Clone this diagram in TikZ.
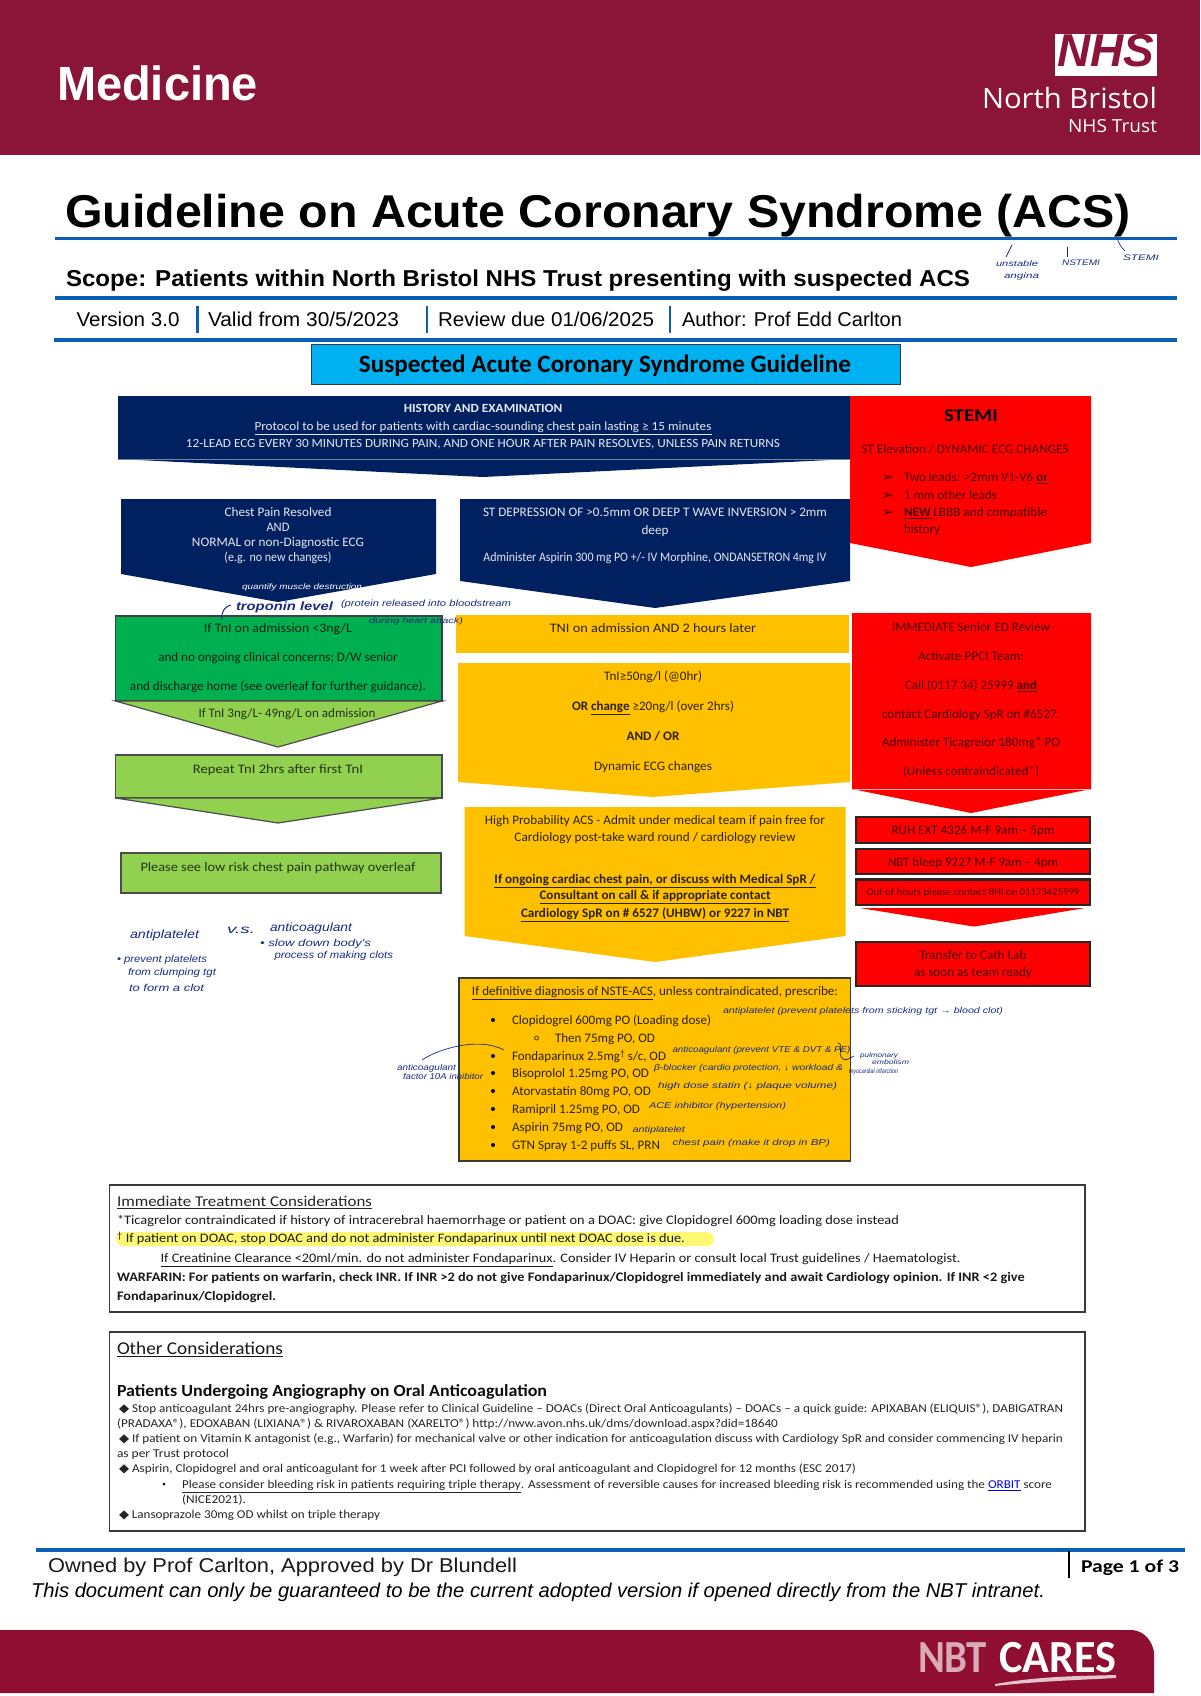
\documentclass[tikz,border=0pt]{standalone}
\usepackage{fontspec}
\setmainfont{Carlito}
\newfontfamily\arialf{Liberation Sans}
\newfontfamily\opensf{Open Sans}
\newfontfamily\dejaf{DejaVu Sans}
\definecolor{maroonA}{HTML}{8A1538}
\definecolor{maroonB}{HTML}{8F0E32}
\definecolor{nhsblue}{HTML}{0B5FB8}
\definecolor{skyB}{HTML}{00B0F0}
\definecolor{navyB}{HTML}{002060}
\definecolor{orangeB}{HTML}{FFC000}
\definecolor{greenB}{HTML}{00B050}
\definecolor{limeB}{HTML}{92D050}
\definecolor{inkB}{HTML}{1B2A80}
\definecolor{edgeB}{HTML}{3A3A3A}
\tikzset{
  txt/.style={inner sep=0pt,outer sep=0pt},
  onnavy/.style={text=white!90!navyB},
  onred/.style={text=red!28!black},
  onorange/.style={text=orangeB!18!black},
  ongreen/.style={text=greenB!20!black},
  onlime/.style={text=limeB!25!black},
  inktext/.style={text=inkB},
  bluerule/.style={draw=nhsblue,line width=3.6pt},
  bluebar/.style={draw=nhsblue,line width=2.8pt},
  navybox/.style={fill=navyB},
  redbox/.style={fill=red},
  redframed/.style={fill=red,draw=black!85,line width=2.2pt},
  orangebox/.style={fill=orangeB},
  orangeframed/.style={fill=orangeB,draw=edgeB,line width=1.2pt},
  greenframed/.style={fill=greenB,draw=black!75,line width=1.4pt},
  limeframed/.style={fill=limeB,draw=black!70,line width=1.2pt},
  considerbox/.style={draw=edgeB,line width=1.4pt},
  inkline/.style={draw=inkB,line width=0.7pt},
}
\newcommand\fitw[2]{\resizebox{#1pt}{\height}{#2}}
% [options]{name}{x}{y centre}{size}{width}{text}
\newcommand\txl[7][]{\node[txt,anchor=base west,#1] (#2) at ({#3},{#4+0.37*(#5)}) {\fontsize{#5pt}{#5pt}\selectfont\fitw{#6}{#7}};}
\newcommand\txc[7][]{\node[txt,anchor=base,#1] (#2) at ({#3},{#4+0.37*(#5)}) {\fontsize{#5pt}{#5pt}\selectfont\fitw{#6}{#7}};}
\newcommand\inkf{\arialf\itshape}
\begin{document}
\begin{tikzpicture}[x=1pt,y=-1pt]
\useasboundingbox (0,0) rectangle (1200,1696);
\fill[white] (0,0) rectangle (1200,1696);
% header
\fill[maroonA] (0,0) rectangle (1200,155);
\txl[text=white]{medicine}{57}{82.7}{48}{201}{\arialf\bfseries Medicine}
\fill[white] (1055,34) rectangle (1157,76);
\txc[text=maroonA]{nhslogo}{1106}{49}{46}{97}{\arialf\bfseries\itshape NHS}
\txl[text=white]{northbristol}{982}{98.6}{28}{175}{\opensf North Bristol}
\txl[text=white]{nhstrust}{1068}{126.3}{18}{89}{\opensf NHS Trust}
% title block
\txl{title}{65}{210}{46}{1066}{\arialf\bfseries Guideline on Acute Coronary Syndrome (ACS)}
\draw[bluerule] (55,238.7) -- (1177,238.7);
\txl{scope}{66}{278.4}{23}{904}{\arialf\bfseries Scope: Patients within North Bristol NHS Trust presenting with suspected ACS}
\draw[bluerule] (55,298) -- (1177,298);
\txl{version}{76.5}{318.6}{20}{103}{\arialf Version 3.0}
\draw[bluebar] (197.5,306) -- (197.5,333);
\txl{valid}{208}{318.6}{20}{191}{\arialf Valid from 30/5/2023}
\draw[bluebar] (427,306) -- (427,333);
\txl{review}{438}{318.6}{20}{216}{\arialf Review due 01/06/2025}
\draw[bluebar] (670,306) -- (670,333);
\txl{author}{682}{318.6}{20}{220}{\arialf Author: Prof Edd Carlton}
\draw[bluerule] (54,340) -- (1177,340);
% heading box
\draw[fill=skyB,draw=edgeB,line width=0.9pt] (311,344.5) rectangle (900,384);
\txc[text=black]{heading}{605}{363.7}{25}{492}{\bfseries Suspected Acute Coronary Syndrome Guideline}
% history arrow
\fill[navybox] (118,396) -- (850,396) -- (850,459) -- (483,477) -- (118,459) -- cycle;
\draw[white!45!navyB,line width=0.5pt] (118,459) -- (850,459);
\txc[onnavy]{hist1}{483}{408}{12.5}{158.5}{\bfseries HISTORY AND EXAMINATION}
\txc[onnavy]{hist2}{483}{426}{12.5}{457}{\underline{Protocol to be used for patients with cardiac-sounding chest pain lasting ≥ 15 minutes}}
\txc[onnavy]{hist3}{483}{443}{12.5}{594}{12-LEAD ECG EVERY 30 MINUTES DURING PAIN, AND ONE HOUR AFTER PAIN RESOLVES, UNLESS PAIN RETURNS}
% chest pain arrow
\fill[navybox] (121,499) -- (436,499) -- (436,574) -- (278,602) -- (121,574) -- cycle;
\txc[onnavy]{cp1}{278}{512}{13}{107}{Chest Pain Resolved}
\txc[onnavy]{cp2}{278}{527}{13}{23}{AND}
\txc[onnavy]{cp3}{278}{542}{13}{172}{NORMAL or non-Diagnostic ECG}
\txc[onnavy]{cp4}{278}{557}{13}{107}{(e.g. no new changes)}
% ST depression arrow
\fill[navybox] (460,499) -- (850,499) -- (850,581) -- (655,608) -- (460,581) -- cycle;
\txc[onnavy]{st1}{655}{512}{13}{344}{ST DEPRESSION OF >0.5mm OR DEEP T WAVE INVERSION > 2mm}
\txc[onnavy]{st2}{655}{530}{13}{27}{deep}
\txc[onnavy]{st3}{655}{557}{13}{343}{Administer Aspirin 300 mg PO +/- IV Morphine, ONDANSETRON 4mg IV}
% STEMI arrow
\fill[redbox] (850,396) -- (1091,396) -- (1091,543) -- (971,567) -- (850,543) -- cycle;
\txc[text=black]{stemi}{971}{414.5}{18}{54}{\bfseries STEMI}
\txc[onred]{stemi1}{965}{449}{13}{207}{ST Elevation / DYNAMIC ECG CHANGES}
\txc[onred]{stemibul1}{888}{477}{13}{13}{\dejaf ➢}
\txl[onred]{stemi2}{904}{477}{13}{144}{Two leads: >2mm V1-V6 \underline{\bfseries or}}
\txc[onred]{stemibul2}{888}{494.4}{13}{13}{\dejaf ➢}
\txl[onred]{stemi3}{904}{494.4}{13}{93}{1 mm other leads}
\txc[onred]{stemibul3}{888}{512}{13}{13}{\dejaf ➢}
\txl[onred]{stemi4}{904}{512}{13}{143}{\underline{\bfseries NEW\,}LBBB and compatible}
\txl[onred]{stemi5}{904}{529}{13}{36}{history}
% green column
\draw[greenframed] (115.5,616) rectangle (442,701);
\txc[ongreen]{g1}{278}{628}{13}{148}{If TnI on admission <3ng/L}
\txc[ongreen]{g2}{278}{657}{13}{239.5}{and no ongoing clinical concerns; D/W senior}
\txc[ongreen]{g3}{278}{686}{13}{296}{and discharge home (see overleaf for further guidance).}
\draw[limeframed] (115.5,701) -- (442,701) -- (278,747) -- cycle;
\txc[onlime]{g4}{287}{713}{13}{177}{If TnI 3ng/L- 49ng/L on admission}
\draw[limeframed] (115.5,755) rectangle (442,798);
\draw[limeframed] (115.5,798) -- (442,798) -- (278,823) -- cycle;
\txc[onlime]{g5}{278}{769}{13}{170}{Repeat TnI 2hrs after first TnI}
\draw[limeframed] (121,853) rectangle (441,893);
\txc[onlime]{g6}{278}{867}{13}{275}{Please see low risk chest pain pathway overleaf}
% orange column
\fill[orangebox] (456,615) rectangle (849,653);
\txc[onorange]{o1}{653}{628}{13}{206.5}{TNI on admission AND 2 hours later}
\fill[orangebox] (458,663) -- (850,663) -- (850,782) -- (653,797) -- (458,782) -- cycle;
\txc[onorange]{o2}{653}{676}{13}{98}{TnI≥50ng/l (@0hr)}
\txc[onorange]{o3}{653}{706}{13}{162}{\bfseries OR \underline{change} \mdseries ≥20ng/l (over 2hrs)}
\txc[onorange]{o4}{653}{736}{13}{53}{\bfseries AND / OR}
\txc[onorange]{o5}{653}{766}{13}{118}{Dynamic ECG changes}
\fill[orangebox] (464.5,807) -- (845.5,807) -- (845.5,936) -- (655,962) -- (464.5,936) -- cycle;
\txc[onorange]{o6}{655}{820}{13}{340}{High Probability ACS - Admit under medical team if pain free for}
\txc[onorange]{o7}{655}{837}{13}{281}{Cardiology post-take ward round / cardiology review}
\txc[onorange]{o8}{655}{879}{13}{321}{\bfseries\underline{If ongoing cardiac chest pain, or discuss with Medical SpR /}}
\txc[onorange]{o9}{655}{895}{13}{231}{\bfseries\underline{Consultant on call \& if appropriate contact}}
\txc[onorange]{o10}{655}{913}{13}{268}{\bfseries\underline{Cardiology SpR on \# 6527 (UHBW) or 9227 in NBT}}
% NSTE-ACS box
\draw[orangeframed] (459,978) rectangle (850.5,1161);
\txc[onorange]{n0}{655}{991}{13}{366}{\underline{If definitive diagnosis of NSTE-ACS}, unless contraindicated, prescribe:}
\foreach \nm/\yy in {a/1020,b/1056,c/1073,d/1091,e/1109,f/1127,g/1145}{
  \fill[black] (493,\yy) circle (2pt);
}
\draw[black!80,line width=0.7pt] (536.5,1038) circle (2pt);
\txl[onorange]{n1}{512}{1020}{13}{199}{Clopidogrel 600mg PO (Loading dose)}
\txl[onorange]{n2}{555}{1038}{13}{100}{Then 75mg PO, OD}
\txl[onorange]{n3}{512}{1056}{13}{154}{Fondaparinux 2.5mg\textsuperscript{†} s/c, OD}
\txl[onorange]{n4}{512}{1073}{13}{137}{Bisoprolol 1.25mg PO, OD}
\txl[onorange]{n5}{512}{1091}{13}{139}{Atorvastatin 80mg PO, OD}
\txl[onorange]{n6}{512}{1109}{13}{128}{Ramipril 1.25mg PO, OD}
\txl[onorange]{n7}{512}{1127}{13}{111}{Aspirin 75mg PO, OD}
\txl[onorange]{n8}{512}{1145}{13}{148}{GTN Spray 1-2 puffs SL, PRN}
% red column
\fill[redbox] (852,613) -- (1091,613) -- (1091,789) -- (971,813) -- (852,789) -- cycle;
\draw[white!70!red,line width=0.6pt] (852,789) -- (1091,789);
\txc[onred]{r1}{971}{627}{13}{158}{IMMEDIATE Senior ED Review}
\txc[onred]{r2}{971}{656}{13}{106}{Activate PPCI Team:}
\txc[onred]{r3}{971}{685}{13}{132}{Call (0117 34) 25999 \underline{\bfseries and}}
\txc[onred]{r4}{971}{713.5}{13}{178}{contact Cardiology SpR on \#6527.}
\txc[onred]{r5}{971}{742}{13}{178}{Administer Ticagrelor 180mg* PO}
\txc[onred]{r6}{971}{771}{13}{136}{(Unless contraindicated*)}
\draw[redframed] (855.7,817) rectangle (1090,843);
\txc[onred]{r7}{973}{830}{13}{163}{RUH EXT 4326 M-F 9am – 5pm}
\draw[redframed] (855.7,849) rectangle (1090,874);
\txc[onred]{r8}{973}{862}{13}{170}{NBT bleep 9227 M-F 9am – 4pm}
\draw[redframed] (855.7,879.5) rectangle (1090,905);
\txc[onred]{r9}{973}{892}{10.5}{213}{Out of hours please contact BHI on 01173425999}
\fill[redbox] (860,908) -- (1085,908) -- (974,926.6) -- cycle;
\draw[redframed] (856,941.6) rectangle (1090,986);
\txc[onred]{r10}{973}{955}{13}{107}{Transfer to Cath Lab}
\txc[onred]{r11}{973}{972}{13}{118}{as soon as team ready}
% immediate treatment considerations
\draw[considerbox] (109.6,1185) rectangle (1085,1312);
\txl[text=black!85]{i0}{117}{1200.7}{15}{255}{\underline{Immediate Treatment Considerations}}
\txl[text=black!90]{i1}{117}{1219.7}{13}{782}{*Ticagrelor contraindicated if history of intracerebral haemorrhage or patient on a DOAC: give Clopidogrel 600mg loading dose instead}
\fill[yellow!55,rounded corners=7pt] (116,1232) rectangle (714,1246);
\txl[text=black!90]{i2}{117}{1238}{13}{568}{\textsuperscript{†} If patient on DOAC, stop DOAC and do not administer Fondaparinux until next DOAC dose is due.}
\txl[text=black!90]{i3}{160.6}{1258}{13}{800}{\underline{If Creatinine Clearance <20ml/min. do not administer Fondaparinux}. Consider IV Heparin or consult local Trust guidelines / Haematologist.}
\txl[text=black!90]{i4}{117}{1277}{13}{907.5}{\bfseries WARFARIN: For patients on warfarin, check INR. If INR >2 do not give Fondaparinux/Clopidogrel immediately and await Cardiology opinion. If INR <2 give}
\txl[text=black!90]{i5}{117}{1296}{13}{159}{\bfseries Fondaparinux/Clopidogrel.}
% other considerations
\draw[considerbox] (109.6,1332) rectangle (1085,1531);
\txl[text=black!90]{oc0}{117}{1348}{18}{166}{\underline{Other Considerations}}
\txl[text=black!95]{oc1}{117}{1390}{17}{430}{\bfseries Patients Undergoing Angiography on Oral Anticoagulation}
\txl[text=black!85]{oc2}{119}{1408}{12}{944}{{\dejaf ◆} Stop anticoagulant 24hrs pre-angiography. Please refer to Clinical Guideline – DOACs (Direct Oral Anticoagulants) – DOACs – a quick guide: APIXABAN (ELIQUIS®), DABIGATRAN}
\txl[text=black!85]{oc3}{117}{1423}{12}{661}{(PRADAXA®), EDOXABAN (LIXIANA®) \& RIVAROXABAN (XARELTO®) http://nww.avon.nhs.uk/dms/download.aspx?did=18640}
\txl[text=black!85]{oc4}{119}{1438}{12}{944}{{\dejaf ◆} If patient on Vitamin K antagonist (e.g., Warfarin) for mechanical valve or other indication for anticoagulation discuss with Cardiology SpR and consider commencing IV heparin}
\txl[text=black!85]{oc5}{117}{1453}{12}{112}{as per Trust protocol}
\txl[text=black!85]{oc6}{119}{1468}{12}{737}{{\dejaf ◆} Aspirin, Clopidogrel and oral anticoagulant for 1 week after PCI followed by oral anticoagulant and Clopidogrel for 12 months (ESC 2017)}
\fill[black] (164,1484) circle (1.5pt);
\txl[text=black!85]{oc7}{182}{1484}{12}{870}{\underline{Please consider bleeding risk in patients requiring triple therapy}. Assessment of reversible causes for increased bleeding risk is recommended using the {\color{blue}\underline{ORBIT}} score}
\txl[text=black!85]{oc8}{182}{1499}{12}{64}{(NICE2021).}
\txl[text=black!85]{oc9}{119}{1514}{12}{261}{{\dejaf ◆} Lansoprazole 30mg OD whilst on triple therapy}
% ink annotations - top
\draw[inkline] (1012,245) -- (1006,257);
\draw[inkline] (1067,247) -- (1067,257);
\draw[inkline] (1117,237) .. controls (1118,243) and (1121,247) .. (1125,251);
\txl[inktext]{ia1}{996}{264}{8}{42}{\inkf unstable}
\txl[inktext]{ia2}{1004}{276}{8}{35}{\inkf angina}
\txl[inktext]{ia3}{1062}{263}{8}{38}{\inkf NSTEMI}
\txl[inktext]{ia4}{1123}{258}{8}{36}{\inkf STEMI}
% ink annotations - troponin
\txl[text=white]{ib1}{242}{587}{8}{120}{\inkf quantify muscle destruction}
\draw[inkB,line width=1pt] (222,620) .. controls (221,612) and (224,607) .. (231,605);
\txl[inktext]{ib2}{236}{606}{12}{97}{\inkf\bfseries troponin level}
\txl[inktext]{ib3}{341}{603}{9}{170}{\inkf (protein released into bloodstream}
\txl[inktext]{ib4}{369}{621}{8}{94}{\inkf during heart attack)}
% ink annotations - left notes
\txl[inktext]{ic1}{130}{934}{12}{69}{\inkf antiplatelet}
\txl[inktext]{ic2}{227}{929}{12}{28}{\inkf v.s.}
\txl[inktext]{ic3}{270}{927}{12}{82}{\inkf anticoagulant}
\txl[inktext]{ic4}{260}{943}{10}{111}{\inkf • slow down body's}
\txl[inktext]{ic5}{274.5}{955}{10}{118.5}{\inkf process of making clots}
\txl[inktext]{ic6}{117}{959}{10}{90}{\inkf • prevent platelets}
\txl[inktext]{ic7}{128}{972}{10}{88}{\inkf from clumping tgt}
\txl[inktext]{ic8}{129}{988}{10}{75}{\inkf to form a clot}
% ink annotations - prescriptions
\txl[inktext]{id1}{723}{1010}{8.5}{280}{\inkf antiplatelet (prevent platelets from sticking tgt → blood clot)}
\txl[inktext]{id2}{672.5}{1049}{8.5}{178}{\inkf anticoagulant (prevent VTE \& DVT \& PE)}
\txl[inktext]{id3}{654}{1067}{8.5}{189}{\inkf β-blocker (cardio protection, ↓ workload \&}
\txl[inktext]{id4}{658}{1085}{8.5}{179}{\inkf high dose statin (↓ plaque volume)}
\txl[inktext]{id5}{649}{1105}{8.5}{137}{\inkf ACE inhibitor (hypertension)}
\txl[inktext]{id6}{632.5}{1129}{8.5}{52.5}{\inkf antiplatelet}
\txl[inktext]{id7}{672.5}{1142}{8.5}{157.5}{\inkf chest pain (make it drop in BP)}
\txl[inktext]{id8}{397}{1067}{8.5}{59}{\inkf anticoagulant}
\txl[inktext]{id9}{403}{1076}{8.5}{80}{\inkf factor 10A inhibitor}
\draw[inkline] (422,1060) .. controls (436,1050) and (478,1036) .. (504,1050);
\draw[inkline] (838,1043) .. controls (845,1045) and (836,1054) .. (843,1059) .. controls (846,1061) and (850,1058) .. (854,1056);
\txl[inktext]{id10}{860}{1055}{6.5}{38}{\inkf pulmonary}
\txl[inktext]{id11}{872}{1062}{6.5}{37}{\inkf embolism}
\txl[inktext]{id12}{849}{1071}{6.5}{49}{\inkf myocardial infarction}
% footer
\draw[bluerule] (36,1550) -- (1185,1550);
\txl[text=black!90]{foot1}{48}{1565}{20}{469}{\arialf Owned by Prof Carlton, Approved by Dr Blundell}
\draw[black,line width=1.3pt] (1069,1551) -- (1069,1578);
\txl[text=black]{foot2}{1081}{1566}{18}{98}{\bfseries Page 1 of 3}
\txl[text=black]{foot3}{31}{1590}{20}{1014}{\arialf\itshape This document can only be guaranteed to be the current adopted version if opened directly from the NBT intranet.}
\fill[maroonB] (0,1630) -- (1133,1630) .. controls (1146,1632) and (1152,1642) .. (1154,1652) -- (1154,1693) -- (0,1693) -- cycle;
\txl[text=maroonB!35!white]{nbt}{918}{1655}{46}{69}{\bfseries NBT}
\txl[text=white]{cares}{999}{1655}{46}{117}{\bfseries CARES}
\fill[maroonB!25!white] (995,1684) .. controls (1040,1676) and (1080,1676) .. (1116,1675) -- (1116,1678) .. controls (1080,1680) and (1040,1681) .. (995,1686) -- cycle;
\end{tikzpicture}
\end{document}
